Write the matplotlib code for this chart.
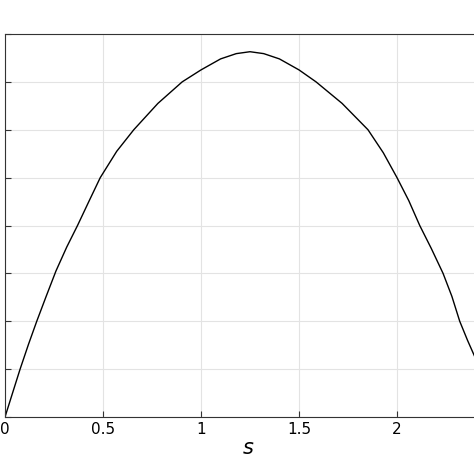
import matplotlib
matplotlib.use("Agg")
import matplotlib.pyplot as plt

s_vals = [0, 0.04, 0.077, 0.12, 0.162, 0.21, 0.26, 0.315, 0.37, 0.43, 0.486, 0.57, 0.657,
          0.78, 0.904, 1.0, 1.1, 1.18, 1.25, 1.32, 1.4, 1.5, 1.587, 1.72, 1.852, 1.93,
          2.0, 2.06, 2.116, 2.175, 2.235, 2.28, 2.32, 2.36, 2.40]
y_vals = [0, 0.052, 0.100, 0.152, 0.200, 0.252, 0.305, 0.355, 0.400, 0.452, 0.500, 0.555, 0.600,
          0.655, 0.700, 0.725, 0.748, 0.759, 0.763, 0.759, 0.748, 0.725, 0.700, 0.655, 0.600, 0.552,
          0.500, 0.452, 0.400, 0.352, 0.300, 0.252, 0.200, 0.160, 0.123]
x_ticks = [0, 0.5, 1, 1.5, 2]
x_labels = ["0", "0.5", "1", "1.5", "2"]

fig = plt.figure(figsize=(4.74, 4.74), dpi=100)
W = 474
ax = fig.add_axes([5 / W, 1 - 417 / W, (2.5 * 196) / W, (417 - 34) / W])
ax.plot(s_vals, y_vals, color="black", lw=1.0)
ax.set_xlim(0, 2.5)
ax.set_ylim(0, 0.8)
ax.set_xticks(x_ticks)
ax.set_xticklabels(x_labels, fontsize=11)
ax.set_yticks([i / 10 for i in range(9)])
ax.set_yticklabels([f"{i/10:.1f}" for i in range(9)], fontsize=11)
ax.grid(True, color="#e3e3e3", lw=0.8)
ax.tick_params(direction="in", length=4, color="#333333")
for sp in ax.spines.values():
    sp.set_color("#333333")
    sp.set_linewidth(0.8)
ax.set_xlabel("$s$", fontsize=15, labelpad=2)
ax.xaxis.set_label_coords((248 - 5) / (2.5 * 196), -0.055)
fig.savefig("out.png", dpi=100)
